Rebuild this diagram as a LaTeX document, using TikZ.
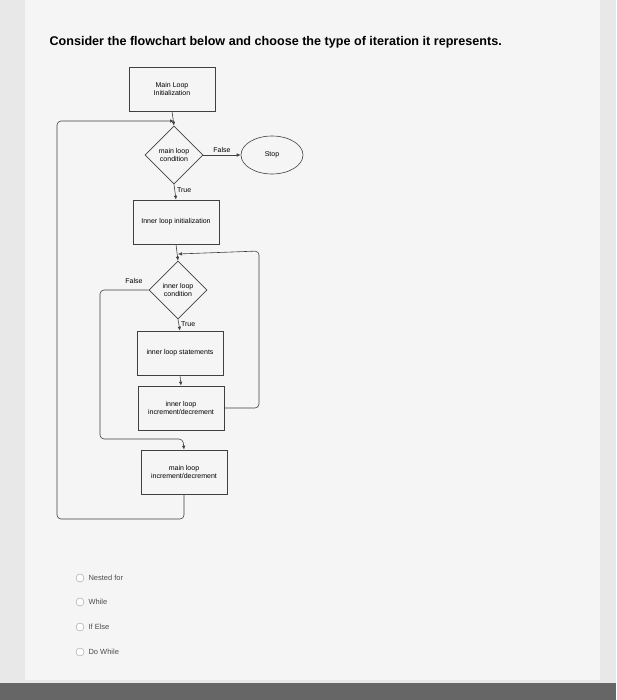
\documentclass[tikz,border=0pt]{standalone}
\usepackage{fontspec}
\setmainfont{Liberation Sans}
\usetikzlibrary{shapes.geometric,arrows.meta}
\begin{document}
\begin{tikzpicture}[x=1pt,y=-1pt,
  box/.style={draw=black!75,line width=0.6pt,rectangle,minimum width=86pt,minimum height=44pt,inner sep=1pt,align=center,font=\fontsize{7}{8}\selectfont},
  dia/.style={draw=black!75,line width=0.6pt,diamond,aspect=1,minimum width=58pt,minimum height=58pt,inner sep=0pt,align=center,font=\fontsize{7}{8}\selectfont},
  lbl/.style={font=\fontsize{7}{8}\selectfont,inner sep=1pt},
  ln/.style={draw=black!75,line width=0.6pt,rounded corners=4pt},
  arr/.style={ln,-{Latex[length=4pt,width=3.5pt]}},
  radio/.style={draw=black!40,circle,minimum size=8pt,inner sep=0pt,fill=white},
  opt/.style={font=\fontsize{7.5}{9}\selectfont,text=black!70,anchor=west}]
\useasboundingbox (0,0) rectangle (616,700);
\fill[black!9] (0,0) rectangle (616,700);
\fill[black!4] (25,0) rectangle (600,680);
\fill[black!60] (0,683) rectangle (616,700);
\node[anchor=west,font=\bfseries\fontsize{12.6}{15}\selectfont] (title) at (46,42) {Consider the flowchart below and choose the type of iteration it represents.};
\node[box] (init) at (172,89) {Main Loop\\Initialization};
\node[dia] (mc) at (174,155) {main loop\\condition};
\node[draw=black!75,line width=0.6pt,ellipse,minimum width=62pt,minimum height=38pt,font=\fontsize{7}{8}\selectfont] (stop) at (272,155) {Stop};
\node[box] (iinit) at (176,222) {Inner loop initialization};
\node[dia] (ic) at (178,290) {inner loop\\condition};
\node[box] (stm) at (180,353) {inner loop statements};
\node[box] (iinc) at (181,408) {inner loop\\increment/decrement};
\node[box] (minc) at (184,472) {main loop\\increment/decrement};
\coordinate (mtop) at (174,121);
\coordinate (itop) at (178,254);
\draw[arr] (init.south) -- (mc.north);
\draw[arr] (mc.east) -- node[lbl,above=1pt] {False} (stop.west);
\draw[arr] (mc.south) -- node[lbl,right=1pt,pos=0.4] {True} (iinit.north);
\draw[arr] (iinit.south) -- (ic.north);
\draw[arr] (ic.south) -- node[lbl,right=1pt,pos=0.4] {True} (stm.north);
\draw[arr] (stm.south) -- (iinc.north);
\draw[arr] (iinc.east) -| (259,251) -- (itop);
\draw[arr] (ic.west) -- (100,290) |- (183,439) -- (minc.north);
\node[lbl] (fl) at (134,281) {False};
\draw[arr] (minc.south) |- (57,519) |- (mtop);
\foreach \y/\t/\n in {578/Nested for/a,602/While/b,627/If Else/c,652/Do While/d}{
  \node[radio] (r\n) at (80,\y) {};
  \node[opt] (o\n) at (85,\y) {\t};
}
\end{tikzpicture}
\end{document}
